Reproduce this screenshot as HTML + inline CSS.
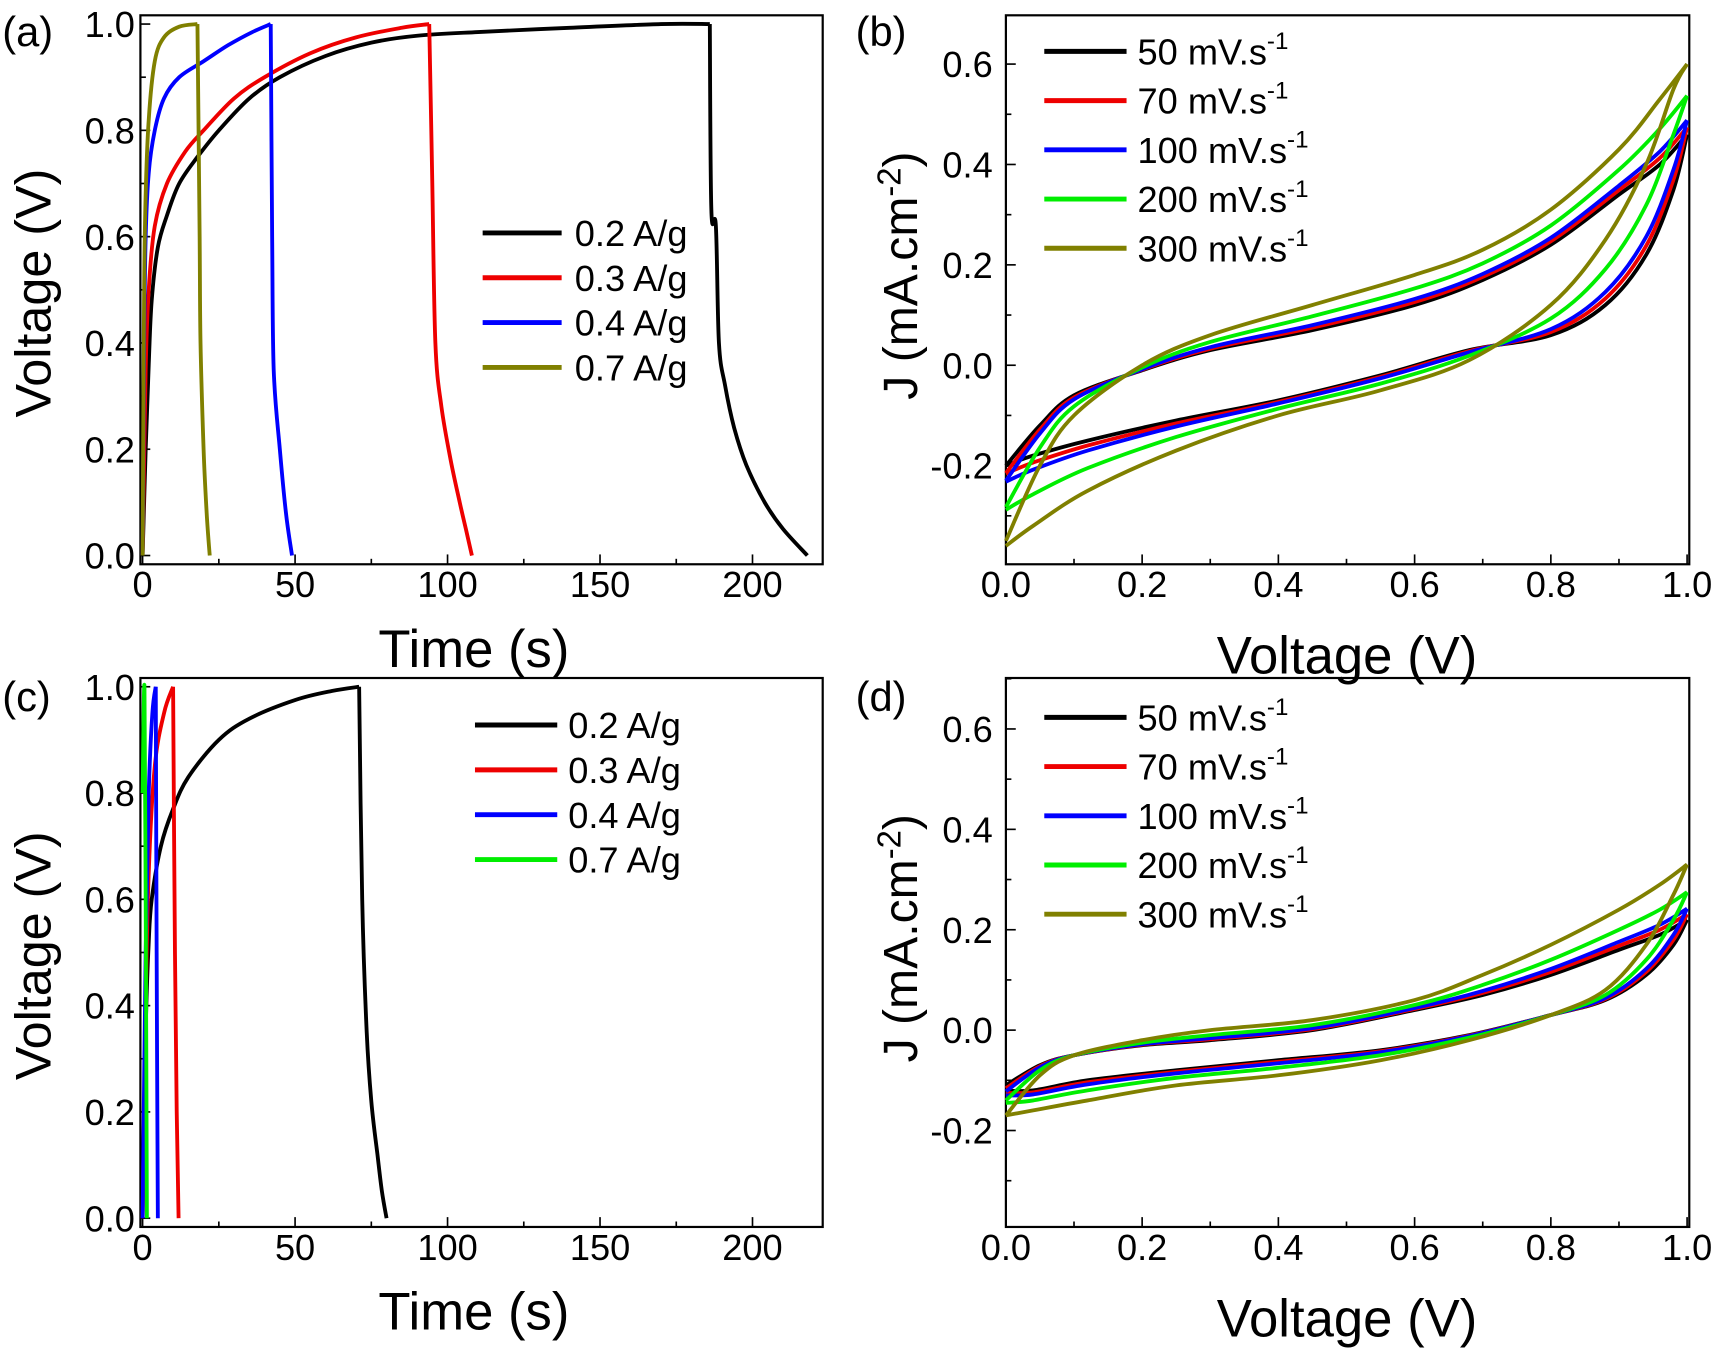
<!DOCTYPE html>
<html><head><meta charset="utf-8"><style>
html,body{margin:0;padding:0;background:#fff}
svg{display:block}
text{font-family:"Liberation Sans",Arial,sans-serif;fill:#000}
</style></head><body>
<svg id="s" width="1720" height="1356" viewBox="0 0 1568 1240" preserveAspectRatio="none" xmlns="http://www.w3.org/2000/svg"></svg>
<script>
const S=document.getElementById('s');let h='';
function line(x1,y1,x2,y2,c,w){h+=`<line x1="${x1}" y1="${y1}" x2="${x2}" y2="${y2}" stroke="${c}" stroke-width="${w}"/>`;}
function txt(x,y,t,sz,anchor,extra){h+=`<text x="${x}" y="${y}" font-size="${sz}" text-anchor="${anchor||'start'}" ${extra||''}>${t}</text>`;}
function cr(pts){
 let d=`M${pts[0][0].toFixed(1)},${pts[0][1].toFixed(1)}`;
 for(let i=0;i<pts.length-1;i++){const p0=pts[Math.max(0,i-1)],p1=pts[i],p2=pts[i+1],p3=pts[Math.min(pts.length-1,i+2)];
  const c1=[p1[0]+(p2[0]-p0[0])/6,p1[1]+(p2[1]-p0[1])/6],c2=[p2[0]-(p3[0]-p1[0])/6,p2[1]-(p3[1]-p1[1])/6];
  d+=`C${c1[0].toFixed(1)},${c1[1].toFixed(1)} ${c2[0].toFixed(1)},${c2[1].toFixed(1)} ${p2[0].toFixed(1)},${p2[1].toFixed(1)}`;}
 return d;}
function path(d,c,w){h+=`<path d="${d}" fill="none" stroke="${c}" stroke-width="${w||3.5}" stroke-linejoin="round"/>`;}
const TS=33;
function gcd(top){
 const X0=130,XS=2.78,Y0=top+494,YS=486;
 const fx=t=>X0+t*XS, fy=v=>Y0-v*YS;
 h+=`<rect x="128" y="${top}" width="622" height="502" fill="none" stroke="#000" stroke-width="2"/>`;
 for(let t=0;t<=200;t+=25){const x=fx(t);line(x,top+502,x,top+502-(t%50?5:9),'#000',1.5);}
 [0,50,100,150,200].forEach(t=>txt(fx(t),top+532,t,TS,'middle'));
 for(let v=0;v<=10;v++){const y=fy(v/10);line(128,y,128+(v%2?5:9),y,'#000',1.5);}
 for(let v=0;v<=5;v++){txt(123,fy(v*0.2)+12,(v*0.2).toFixed(1),TS,'end');}
 txt(432,top+596,'Time (s)',48,'middle');
 txt(0,0,'Voltage (V)',46,'middle',`transform="translate(46,${top+254}) rotate(-90)"`);
 return [fx,fy];
}
function curves(fx,fy,list){list.forEach(([c,pts])=>path(cr(pts.map(p=>[fx(p[0]),fy(p[1])])),c,3.5));}
let [fx,fy]=gcd(14);
txt(2,42,'(a)',38);
curves(fx,fy,[
['#000',[[0,0],[1,0.2],[2,0.36],[3,0.48],[5,0.58],[8,0.64],[12,0.7],[18,0.75],[25,0.8],[35,0.86],[45,0.9],[60,0.94],[75,0.965],[90,0.978],[110,0.985],[140,0.993],[170,1.0],[186,1.0]]],
['#000',[[186,1.0],[186.5,0.65],[188,0.62],[189,0.4],[191,0.32],[194,0.24],[198,0.17],[204,0.1],[210,0.05],[218,0]]],
['#e00',[[0,0],[1,0.35],[2,0.5],[4,0.62],[8,0.7],[14,0.76],[20,0.8],[30,0.86],[40,0.9],[55,0.945],[70,0.975],[85,0.993],[94,1.0]]],
['#e00',[[94,1.0],[95,0.7],[96,0.4],[98,0.28],[101,0.18],[104,0.1],[106,0.05],[108,0]]],
['#00f',[[0,0],[0.5,0.4],[1,0.6],[2,0.72],[4,0.8],[7,0.86],[12,0.9],[20,0.93],[28,0.96],[36,0.985],[42,1.0]]],
['#00f',[[42,1.0],[42.5,0.6],[43,0.35],[45,0.2],[47,0.08],[49,0]]],
['#808000',[[0,0],[0.5,0.5],[1,0.68],[2,0.82],[4,0.93],[7,0.975],[12,0.995],[18,1.0]]],
['#808000',[[18,1.0],[18.7,0.6],[19,0.4],[20,0.2],[21,0.08],[22,0]]]
]);
[['#000','0.2 A/g'],['#e00','0.3 A/g'],['#00f','0.4 A/g'],['#808000','0.7 A/g']].forEach(([c,t],i)=>{const y=213+i*41;line(440,y,512,y,c,4.5);txt(524,y+12,t,33);});
[fx,fy]=gcd(620);
txt(2,650,'(c)',38);
curves(fx,fy,[
['#000',[[0,0],[1,0.35],[2,0.52],[3,0.6],[6,0.7],[10,0.77],[15,0.83],[25,0.9],[35,0.94],[50,0.975],[62,0.992],[71,1.0]]],
['#000',[[71,1.0],[72,0.6],[73.5,0.35],[75,0.22],[77,0.12],[78.5,0.05],[80,0]]],
['#e00',[[0,0],[1,0.4],[2,0.65],[4,0.85],[7,0.95],[10,1.0]]],
['#e00',[[10,1.0],[10.6,0.5],[11.2,0.2],[11.8,0]]],
['#00f',[[0,0],[1,0.5],[2,0.8],[3.2,0.95],[4.3,1.0]]],
['#00f',[[4.3,1.0],[4.6,0.5],[5,0]]],
['#0e0',[[0,0.8],[0.6,1.0],[1.0,0.6],[1.4,0]]]
]);
[['#000','0.2 A/g'],['#e00','0.3 A/g'],['#00f','0.4 A/g'],['#0e0','0.7 A/g']].forEach(([c,t],i)=>{const y=663+i*41;line(433,y,508,y,c,4.5);txt(518,y+12,t,33);});
function cv(top,zero){
 const X0=917,XS=621,YS=459;
 const fx=v=>X0+v*XS, fy=j=>zero-j*YS;
 h+=`<rect x="917" y="${top}" width="623" height="502" fill="none" stroke="#000" stroke-width="2"/>`;
 for(let i=0;i<=10;i++){const x=fx(i/10);line(x,top+502,x,top+502-(i%2?5:9),'#000',1.5);}
 for(let i=0;i<=5;i++)txt(fx(i*0.2),top+532,(i*0.2).toFixed(1),TS,'middle');
 for(let i=-3;i<=7;i++){const y=fy(i/10);if(y<top||y>top+502)continue;line(917,y,917+(i%2?5:9),y,'#000',1.5);}
 [-0.2,0,0.2,0.4,0.6].forEach(j=>txt(905,fy(j)+12,j.toFixed(1).replace('-0.0','0.0'),TS,'end'));
 txt(1228,top+602,'Voltage (V)',48,'middle');
 txt(0,0,'J (mA.cm<tspan dy="-15" font-size="30">-2</tspan><tspan dy="15">)</tspan>',44,'middle',`transform="translate(836,${top+238}) rotate(-90)"`);
 return [fx,fy];
}
function loops(fx,fy,A,B,ks){
 const cols=['#000','#e00','#00f','#0e0','#808000'];
 const mix=(a,b,k)=>a.map((p,i)=>[p[0]+(b[i][0]-p[0])*k,p[1]+(b[i][1]-p[1])*k]);
 ks.forEach((k,i)=>{const t=mix(A.t,B.t,k),b=mix(A.b,B.b,k);
  path(cr(t.map(p=>[fx(p[0]),fy(p[1])])),cols[i],3.5);
  path(cr(b.map(p=>[fx(p[0]),fy(p[1])])),cols[i],3.5);});
}
function cvleg(y0){const cols=['#000','#e00','#00f','#0e0','#808000'],n=['50','70','100','200','300'];
 cols.forEach((c,i)=>{const y=y0+i*45;line(952,y,1027,y,c,4.5);txt(1037,y+12,n[i]+' mV.s<tspan dy="-14" font-size="22">-1</tspan>',33);});}
[fx,fy]=cv(14,334);
txt(780,42,'(b)',38);
loops(fx,fy,
 {t:[[0,-0.2],[0.05,-0.12],[0.1,-0.06],[0.2,-0.01],[0.3,0.03],[0.45,0.07],[0.6,0.12],[0.7,0.17],[0.8,0.24],[0.9,0.34],[0.96,0.4],[1,0.46]],
  b:[[1,0.46],[0.98,0.35],[0.94,0.22],[0.88,0.12],[0.8,0.06],[0.68,0.03],[0.55,-0.02],[0.4,-0.07],[0.25,-0.11],[0.12,-0.15],[0.04,-0.18],[0,-0.2]]},
 {t:[[0,-0.35],[0.05,-0.2],[0.1,-0.1],[0.2,0.0],[0.3,0.06],[0.45,0.12],[0.6,0.18],[0.7,0.23],[0.8,0.31],[0.9,0.43],[0.96,0.53],[1,0.6]],
  b:[[1,0.6],[0.98,0.55],[0.94,0.4],[0.88,0.25],[0.8,0.12],[0.68,0.01],[0.55,-0.05],[0.4,-0.1],[0.25,-0.17],[0.12,-0.25],[0.04,-0.32],[0,-0.36]]},
 [0,0.1,0.2,0.55,1]);
cvleg(47);
[fx,fy]=cv(620,942);
txt(780,650,'(d)',38);
loops(fx,fy,
 {t:[[0,-0.11],[0.05,-0.07],[0.1,-0.05],[0.2,-0.03],[0.3,-0.02],[0.45,0.0],[0.6,0.04],[0.7,0.07],[0.8,0.11],[0.9,0.16],[0.96,0.19],[1,0.22]],
  b:[[1,0.22],[0.98,0.17],[0.94,0.11],[0.88,0.06],[0.8,0.03],[0.68,-0.01],[0.55,-0.04],[0.4,-0.06],[0.25,-0.08],[0.12,-0.1],[0.04,-0.12],[0,-0.12]]},
 {t:[[0,-0.17],[0.05,-0.09],[0.1,-0.05],[0.2,-0.02],[0.3,0.0],[0.45,0.02],[0.6,0.06],[0.7,0.11],[0.8,0.17],[0.9,0.24],[0.96,0.29],[1,0.33]],
  b:[[1,0.33],[0.98,0.27],[0.94,0.17],[0.88,0.08],[0.8,0.03],[0.68,-0.02],[0.55,-0.06],[0.4,-0.09],[0.25,-0.11],[0.12,-0.14],[0.04,-0.16],[0,-0.17]]},
 [0,0.1,0.2,0.5,1]);
cvleg(656);
S.innerHTML=h;
</script>
</body></html>
